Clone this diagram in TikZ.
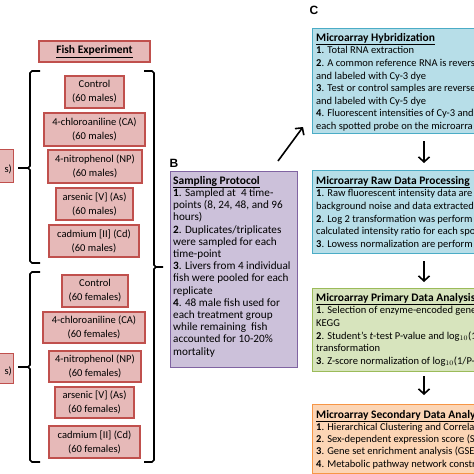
\documentclass[tikz,border=0pt]{standalone}
\usepackage{fontspec}
\setmainfont{Carlito}
\newfontfamily\arialf{Liberation Sans}
\usetikzlibrary{arrows.meta,calc}
\definecolor{pinkfill}{HTML}{E6B9B8}
\definecolor{pinkdraw}{HTML}{C0504D}
\definecolor{purfill}{HTML}{CCC1DA}
\definecolor{purdraw}{HTML}{8064A2}
\definecolor{bluefill}{HTML}{B7DEE8}
\definecolor{bluedraw}{HTML}{4BACC6}
\definecolor{grnfill}{HTML}{D7E4BD}
\definecolor{grndraw}{HTML}{9BBB59}
\definecolor{orgfill}{HTML}{FCD5B5}
\definecolor{orgdraw}{HTML}{F79646}
\newcommand{\ttl}[1]{{\fontsize{11.5}{12.6}\selectfont\textbf{\underline{#1}}}}
\tikzset{
  fishbox/.style={draw=pinkdraw, fill=pinkfill, line width=1.3pt, align=center, inner sep=0pt, font=\fontsize{10.5}{14}\selectfont},
  panel/.style={line width=1.2pt, anchor=north west, inner sep=0pt},
  paneltext/.style={anchor=north west, align=left, inner sep=0pt, font=\fontsize{10.5}{12.6}\selectfont},
  brk/.style={line width=1.6pt, black},
  flowarrow/.style={line width=1.6pt, -{Straight Barb[length=5pt,width=11pt]}},
  letter/.style={font=\arialf\bfseries\fontsize{12}{14}\selectfont, inner sep=0pt},
}
\begin{document}
\begin{tikzpicture}[x=1pt,y=-1pt]
\useasboundingbox (0,0) rectangle (474,474);
\clip (0,0) rectangle (474,474);
\fill[white] (0,0) rectangle (474,474);

% ---- A: fish experiment ----
\node[fishbox, minimum width=111pt, minimum height=21pt, font=\fontsize{11.5}{14}\selectfont] (fish) at (94.5,51.5) {\textbf{\underline{Fish Experiment}}};

\node[fishbox, minimum width=59pt, minimum height=32pt] (cm) at (94.5,92) {Control\\(60 males)};
\node[fishbox, minimum width=101pt, minimum height=33pt] (cam) at (94.5,129.5) {4-chloroaniline (CA)\\(60 males)};
\node[fishbox, minimum width=94pt, minimum height=33pt] (npm) at (95,166.5) {4-nitrophenol (NP)\\(60 males)};
\node[fishbox, minimum width=77pt, minimum height=32pt] (asm) at (94.5,204) {arsenic [V] (As)\\(60 males)};
\node[fishbox, minimum width=90pt, minimum height=32pt] (cdm) at (94,241) {cadmium [II] (Cd)\\(60 males)};

\node[fishbox, minimum width=66pt, minimum height=32pt] (cf) at (95,291) {Control\\(60 females)};
\node[fishbox, minimum width=102pt, minimum height=31pt] (caf) at (94,327.5) {4-chloroaniline (CA)\\(60 females)};
\node[fishbox, minimum width=92pt, minimum height=31pt] (npf) at (95,366.5) {4-nitrophenol (NP)\\(60 females)};
\node[fishbox, minimum width=79pt, minimum height=31pt] (asf) at (94.5,402.5) {arsenic [V] (As)\\(60 females)};
\node[fishbox, minimum width=91pt, minimum height=32pt] (cdf) at (94.5,442) {cadmium [II] (Cd)\\(60 females)};

% partial group boxes at the left edge
\node[fishbox, anchor=north east, minimum width=40pt, minimum height=33pt, text width=37pt, align=right] (mgrp) at (14,149) {\mbox{}\\s)};
\node[fishbox, anchor=north east, minimum width=40pt, minimum height=30pt, text width=37pt, align=right] (fgrp) at (14,353) {\mbox{}\\s)};

% brackets
\draw[brk] (40,71) -- (32,71) -- (30,73) -- (30,166) -- (28,168) -- (18,168);
\draw[brk] (28,168) -- (30,170) -- (30,261) -- (32,263) -- (40,263);
\draw[brk] (40,272) -- (32,272) -- (30,274) -- (30,365) -- (28,367) -- (18,367);
\draw[brk] (28,367) -- (30,369) -- (30,460) -- (32,462) -- (40,462);
\draw[brk] (144,71) -- (152,71) -- (154,73) -- (154,265) -- (156,267) -- (163,267);
\draw[brk] (156,267) -- (154,269) -- (154,460) -- (152,462) -- (144,462);

% ---- B: sampling protocol ----
\node[letter] (lb) at (174,163) {B};
\node[panel, draw=purdraw, fill=purfill, minimum width=127pt, minimum height=196pt] (samp) at (170,171) {};
\node[paneltext, font=\fontsize{11.2}{12.2}\selectfont] (samptxt) at (173,176) {\ttl{Sampling Protocol}\\
\textbf{1}. Sampled at\ \ 4 time-\\
points (8, 24, 48, and 96\\
hours)\\
\textbf{2}. Duplicates/triplicates\\
were sampled for each\\
time-point\\
\textbf{3}. Livers from 4 individual\\
fish were pooled for each\\
replicate\\
\textbf{4}. 48 male fish used for\\
each treatment group\\
while remaining\ \ fish\\
accounted for 10-20\%\\
mortality};

\coordinate (bs) at (278,161);
\coordinate (be) at (303,127);
\draw[flowarrow] (bs) -- (be);

% ---- C: microarray ----
\node[letter] (lc) at (314,10) {C};

\node[panel, draw=bluedraw, fill=bluefill, minimum width=200pt, minimum height=105pt] (hyb) at (312,28) {};
\node[paneltext] (hybtxt) at (316,33) {\ttl{Microarray Hybridization}\\
\textbf{1}. Total RNA extraction\\
\textbf{2}. A common reference RNA is revers\\
and labeled with Cy-3 dye\\
\textbf{3}. Test or control samples are reverse\\
and labeled with Cy-5 dye\\
\textbf{4}. Fluorescent intensities of Cy-3 and\\
each spotted probe on the microarra};

\node[panel, draw=bluedraw, fill=bluefill, minimum width=200pt, minimum height=83pt] (raw) at (312,170) {};
\node[paneltext] (rawtxt) at (316,176) {\ttl{Microarray Raw Data Processing}\\
\textbf{1}. Raw fluorescent intensity data are\\
background noise and data extracted\\
\textbf{2}. Log 2 transformation was perform\\
calculated intensity ratio for each spo\\
\textbf{3}. Lowess normalization are perform};

\node[panel, draw=grndraw, fill=grnfill, minimum width=200pt, minimum height=83pt] (prim) at (312,288) {};
\node[paneltext] (primtxt) at (316,293) {\ttl{Microarray Primary Data Analysis}\\
\textbf{1}. Selection of enzyme-encoded gene\\
KEGG\\
\textbf{2}. Student's \textit{t}-test P-value and log$_{10}$(1\\
transformation\\
\textbf{3}. Z-score normalization of log$_{10}$(1/P-};

\node[panel, draw=orgdraw, fill=orgfill, minimum width=200pt, minimum height=69pt] (sec) at (312,404) {};
\node[paneltext, font=\fontsize{10.5}{12.2}\selectfont] (sectxt) at (316,410) {\ttl{Microarray Secondary Data Analysis}\\
\textbf{1}. Hierarchical Clustering and Correla\\
\textbf{2}. Sex-dependent expression score (S\\
\textbf{3}. Gene set enrichment analysis (GSE\\
\textbf{4}. Metabolic pathway network constr};

\draw[flowarrow] ($(hyb.south west)+(112,7)$) -- ($(raw.north west)+(112,-7)$);
\draw[flowarrow] ($(raw.south west)+(112,7)$) -- ($(prim.north west)+(112,-6)$);
\draw[flowarrow] ($(prim.south west)+(112,4)$) -- ($(sec.north west)+(112,-9)$);
\end{tikzpicture}
\end{document}
